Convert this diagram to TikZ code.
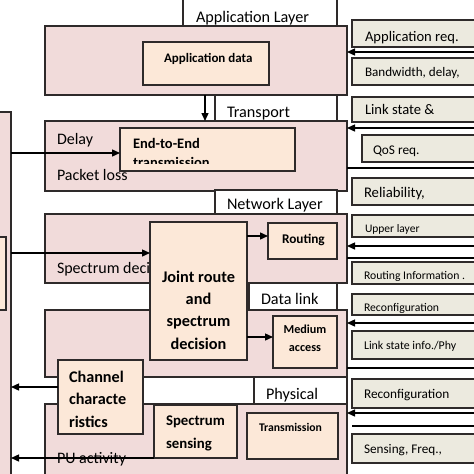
\documentclass[tikz,border=0pt]{standalone}
\usepackage{fontspec}
\setmainfont{Carlito}
\usetikzlibrary{arrows.meta,fit}
\definecolor{pinkf}{HTML}{F1DBDA}
\definecolor{peach}{HTML}{FCE8D8}
\definecolor{tanf}{HTML}{ECEADF}
\definecolor{edgec}{HTML}{2E2A2A}
\newcommand\fs[1]{\fontsize{#1}{#1}\selectfont}
\tikzset{
  boxbase/.style={draw=edgec, line width=1.4pt, inner sep=0pt, outer sep=0pt},
  layerbox/.style={boxbase, fill=pinkf},
  inbox/.style={boxbase, fill=peach},
  labbox/.style={boxbase, fill=white},
  reqbox/.style={boxbase, fill=tanf},
  txt/.style={anchor=base west, inner sep=0pt, outer sep=0pt, text=black},
  ctxt/.style={anchor=base, inner sep=0pt, outer sep=0pt, text=black},
  arr/.style={draw=black, line width=1.4pt, -{Triangle[length=8pt,width=7pt]}},
  plainline/.style={draw=black, line width=1.4pt},
}
\begin{document}
\begin{tikzpicture}[x=1pt,y=-1pt]
\useasboundingbox (0,0) rectangle (474,474);
\clip (0,0) rectangle (474,474);
\fill[white] (0,0) rectangle (474,474);

% left control panel
\node[layerbox, fit={(-5,112)(11,480)}] (ctrl) {};
\node[inbox, fit={(-5,237)(6,310)}] (ctrlin) {};

% application layer
\node[labbox, fit={(183,-3)(337,26)}] (applab) {};
\node[txt, font=\fs{16.2}] (applabt) at (196,22.8) {Application Layer};
\node[layerbox, fit={(45,26)(347,95)}] (app) {};
\node[inbox, fit={(143,42)(269,85)}] (appdata) {};
\node[txt, font=\bfseries\fs{13}] (appdatat) at (164,62) {Application data};

% transport layer
\node[labbox, fit={(215,95)(337,121)}] (trlab) {};
\node[txt, font=\fs{16.2}] (trlabt) at (227,117.8) {Transport};
\node[layerbox, fit={(45,121)(347,191)}] (trans) {};
\node[txt, font=\fs{16}] (delay) at (57,144) {Delay};
\node[txt, font=\fs{16}] (ploss) at (57,180) {Packet loss};
\node[inbox, fit={(120,128)(295,171)}] (e2e) {};
\node[txt, font=\bfseries\fs{14.5}] (e2et) at (133,148) {End-to-End};
\begin{scope}
  \clip (120,128) rectangle (295,163.5);
  \node[txt, font=\bfseries\fs{14.5}] (e2et2) at (133,167.5) {transmission};
\end{scope}

% network layer
\node[labbox, fit={(215,190)(337,214)}] (netlab) {};
\node[txt, font=\fs{16.2}] (netlabt) at (227,209.8) {Network Layer};
\node[layerbox, fit={(45,214)(347,283)}] (net) {};
\node[txt, font=\fs{16}] (specdec) at (57,273) {Spectrum deci};
\node[inbox, fit={(268,223)(337,259)}] (routing) {};
\node[txt, font=\bfseries\fs{13.3}] (routingt) at (282,243) {Routing};

% data link layer
\node[labbox, fit={(249,283)(337,310)}] (dllab) {};
\node[txt, font=\fs{16.2}] (dllabt) at (261,304) {Data link};
\node[layerbox, fit={(45,310)(347,377)}] (dl) {};
\node[inbox, fit={(273,316)(337,368)}] (medium) {};
\node[ctxt, font=\bfseries\fs{12.2}] (mediumt1) at (305,333) {Medium};
\node[ctxt, font=\bfseries\fs{12.2}] (mediumt2) at (305,351) {access};

% joint route box
\node[inbox, fit={(150,222)(247,360)}] (joint) {};
\node[ctxt, font=\bfseries\fs{16.3}] (jt1) at (198.5,282) {Joint route};
\node[ctxt, font=\bfseries\fs{16.3}] (jt2) at (198.5,304) {and};
\node[ctxt, font=\bfseries\fs{16.3}] (jt3) at (198.5,326) {spectrum};
\node[ctxt, font=\bfseries\fs{16.3}] (jt4) at (198.5,349) {decision};

% physical layer
\node[labbox, fit={(254,377)(347,404)}] (phylab) {};
\node[txt, font=\fs{16.2}] (phylabt) at (266,399.8) {Physical};
\node[layerbox, fit={(45,404)(347,480)}] (phy) {};
\node[inbox, fit={(154,405)(237,458)}] (sens) {};
\node[txt, font=\bfseries\fs{14.8}] (senst1) at (166,425) {Spectrum};
\node[txt, font=\bfseries\fs{14.8}] (senst2) at (166,448) {sensing};
\node[inbox, fit={(247,413)(338,459)}] (transm) {};
\node[txt, font=\bfseries\fs{11.7}] (transmt) at (259,431) {Transmission};
\node[txt, font=\fs{16}] (puact) at (57,463.5) {PU activity};

% channel characteristics
\node[inbox, fit={(58,360)(143,434)}] (chan) {};
\node[txt, font=\bfseries\fs{16.2}] (chant1) at (69,382) {Channel};
\node[txt, font=\bfseries\fs{16.2}] (chant2) at (69,404) {characte};
\node[txt, font=\bfseries\fs{16.2}] (chant3) at (69,427) {ristics};

% internal arrows
\draw[arr] (205,0 |- app.south) -- (205,0 |- trans.north);
\draw[arr] (ctrl.east |- 0,153) -- (e2e.west |- 0,153);
\draw[arr] (ctrl.east |- 0,253) -- (joint.west |- 0,253);
\draw[arr] (chan.west |- 0,387) -- (ctrl.east |- 0,387);
\draw[arr] (sens.south west) -- (ctrl.east |- sens.south west);
\draw[arr] (joint.east |- 0,236) -- (routing.west |- 0,236);
\draw[arr] (joint.east |- 0,337) -- (medium.west |- 0,337);

% right side requirement boxes
\node[reqbox, fit={(352,20)(482,47)}] (r1) {};
\node[txt, font=\fs{14.6}] (r1t) at (365,41) {Application req.};
\node[reqbox, fit={(352,58)(482,85)}] (r2) {};
\node[txt, font=\fs{13.1}] (r2t) at (365,76) {Bandwidth, delay,};
\node[reqbox, fit={(352,97)(482,122)}] (r3) {};
\node[txt, font=\fs{14.6}] (r3t) at (365,114) {Link state \&};
\node[reqbox, fit={(362,135)(482,162)}] (r4) {};
\node[txt, font=\fs{13.3}] (r4t) at (373,154) {QoS req.};
\node[reqbox, fit={(352,178)(482,205)}] (r5) {};
\node[txt, font=\fs{14.7}] (r5t) at (364,197) {Reliability,};
\node[reqbox, fit={(352,215)(482,237)}] (r6) {};
\begin{scope}
  \clip (352,215) rectangle (482,233);
  \node[txt, font=\fs{11.5}] (r6t) at (365,232) {Upper layer};
\end{scope}
\node[reqbox, fit={(352,262)(482,284)}] (r7) {};
\begin{scope}
  \clip (352,262) rectangle (482,280);
  \node[txt, font=\fs{11.7}] (r7t) at (364,279) {Routing Information .};
\end{scope}
\node[reqbox, fit={(352,294)(482,315)}] (r8) {};
\begin{scope}
  \clip (352,294) rectangle (482,312);
  \node[txt, font=\fs{11.7}] (r8t) at (364,311) {Reconfiguration};
\end{scope}
\node[reqbox, fit={(352,331)(482,359)}] (r9) {};
\node[txt, font=\fs{11.9}] (r9t) at (364,349) {Link state info./Phy};
\node[reqbox, fit={(352,379)(482,408)}] (r10) {};
\node[txt, font=\fs{13.3}] (r10t) at (364,398) {Reconfiguration};
\node[reqbox, fit={(352,434)(482,463)}] (r11) {};
\node[txt, font=\fs{13.2}] (r11t) at (364,453) {Sensing, Freq.,};

% right side connectors
\coordinate (ra) at (482,52);
\coordinate (rb) at (482,128);
\coordinate (rc) at (482,246);
\coordinate (rd) at (482,323);
\coordinate (re) at (482,413);
\draw[arr] (ra) -- (app.east |- ra);
\draw[arr] (rb) -- (trans.east |- rb);
\draw[arr] (rc) -- (net.east |- rc);
\draw[arr] (rd) -- (dl.east |- rd);
\draw[arr] (re) -- (phy.east |- re);
\coordinate (la) at (482,168);
\coordinate (lb) at (482,258);
\coordinate (lc) at (482,368);
\coordinate (ld) at (482,426);
\draw[plainline] (la) -- (trans.east |- la);
\draw[plainline] (lb) -- (net.east |- lb);
\draw[plainline] (lc) -- (dl.east |- lc);
\draw[plainline] (ld) -- (352,426);
\end{tikzpicture}
\end{document}
